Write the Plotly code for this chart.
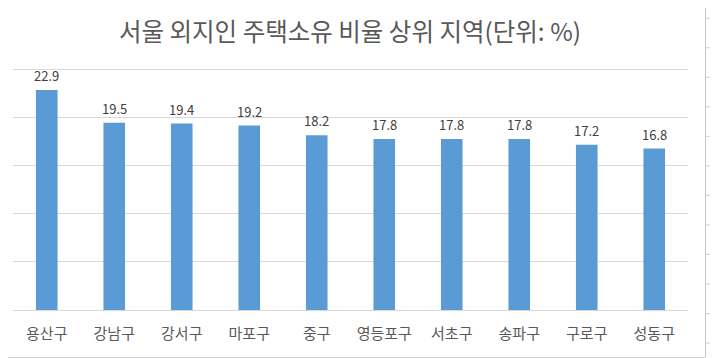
import plotly.graph_objects as go

categories = ["용산구", "강남구", "강서구", "마포구", "중구", "영등포구", "서초구", "송파구", "구로구", "성동구"]
values = [22.9, 19.5, 19.4, 19.2, 18.2, 17.8, 17.8, 17.8, 17.2, 16.8]
title_text = "서울 외지인 주택소유 비율 상위 지역(단위: %)"

# The page body has an 8px default margin, so the figure is laid out in
# screen coordinates shifted by OFF.
OFF = 8
W, H = 718 - OFF, 358 - OFF
L, R = 13 - OFF, 718 - 688
T, B = 65.2 - OFF, 358 - 310
pw, ph = W - L - R, H - T - B

def px_x(x):
    return (x - OFF - L) / pw

def px_y(y):
    return (H - B - (y - OFF)) / ph

font = "Noto Sans CJK KR, Malgun Gothic, sans-serif"

fig = go.Figure()
fig.add_trace(go.Bar(x=categories, y=values, marker=dict(color="#5B9BD5", line=dict(width=0)),
                     width=0.32, hoverinfo="x+y"))

for c, v in zip(categories, values):
    fig.add_annotation(x=c, y=v, text=f"{v:.1f}", showarrow=False, yanchor="bottom", yshift=3,
                       font=dict(family=font, size=13, color="#404040"))

shapes = []
# chart area border (right and bottom)
shapes.append(dict(type="line", xref="paper", yref="paper", x0=px_x(705.5), x1=px_x(705.5),
                   y0=px_y(0), y1=px_y(357.5), line=dict(color="#c8c8c8", width=1), layer="above"))
shapes.append(dict(type="line", xref="paper", yref="paper", x0=px_x(0), x1=px_x(705.5),
                   y0=px_y(357.5), y1=px_y(357.5), line=dict(color="#d0d0d0", width=1), layer="above"))
for k in range(12):
    yy = 18.5 + 29.5 * k
    shapes.append(dict(type="line", xref="paper", yref="paper", x0=px_x(706), x1=px_x(718),
                       y0=px_y(yy), y1=px_y(yy), line=dict(color="#d0d0d0", width=1), layer="above"))

fig.update_layout(
    width=W, height=H,
    margin=dict(l=L, r=R, t=T, b=B, autoexpand=False),
    paper_bgcolor="white", plot_bgcolor="white",
    title=dict(text=title_text, x=(350 - OFF) / W, xanchor="center", y=1 - (32 - OFF) / H,
               yanchor="middle", yref="container",
               font=dict(family=font, size=24.5, color="#595959")),
    xaxis=dict(showgrid=False, showline=True, linecolor="#d9d9d9", linewidth=1,
               tickfont=dict(family=font, size=15, color="#595959"), ticks="", ticklen=0,
               ticklabelstandoff=10, automargin=False),
    yaxis=dict(range=[0, 25.5], dtick=5, showgrid=True, gridcolor="#d9d9d9", gridwidth=1,
               showticklabels=False, zeroline=False, showline=False, automargin=False),
    shapes=shapes,
    showlegend=False,
)

fig.write_html("out.html")
